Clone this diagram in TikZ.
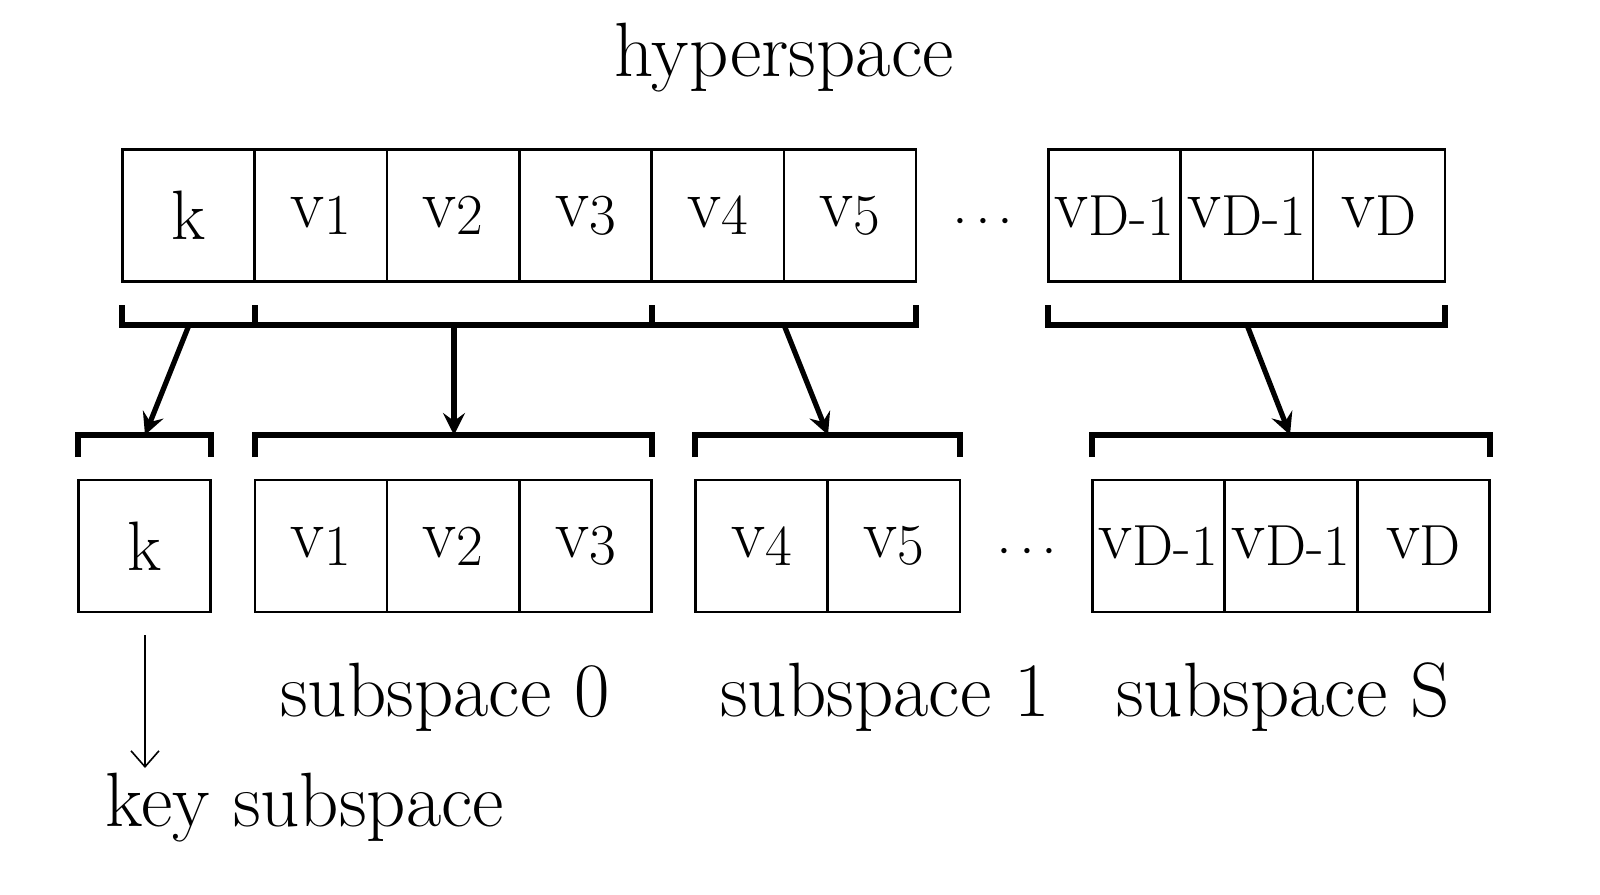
\documentclass[tikz,border=0pt]{standalone}
\usetikzlibrary{arrows.meta}
\begin{document}
\begin{tikzpicture}[x=0.5pt,y=-0.5pt,
  cell/.style={draw,line width=1.3pt,minimum width=66pt,minimum height=66pt,inner sep=0pt,font=\fontsize{35}{40}\selectfont},
  br/.style={line width=2.6pt},
  big/.style={arrows={-Stealth[length=11pt,width=11pt,inset=4pt]},line width=2.6pt},
  lbl/.style={font=\fontsize{38.5}{44}\selectfont,inner sep=0pt}]
\useasboundingbox (0,0) rectangle (1600,894);
\newcommand{\vs}[1]{v\raisebox{-0.25ex}{\fontsize{29}{34}\selectfont #1}}
\node[lbl] (hyp) at (784,58) {hyperspace};
% top row
\foreach \n/\x/\t in {tk/188.5/k,t1/321/\vs{1},t2/453/\vs{2},t3/585.5/\vs{3},t4/718/\vs{4},t5/850/\vs{5},ta/1114.5/\vs{D-1},tb/1247/\vs{D-1},tc/1379/\vs{D}}
  \node[cell] (\n) at (\x,215.5) {\t};
\node[font=\fontsize{35}{40}\selectfont] (tdots) at (983,222) {$\cdots$};
% top brackets
\draw[br] (122,305) -- (122,325) -- (916,325) -- (916,305);
\draw[br] (255,305) -- (255,325);
\draw[br] (652,305) -- (652,325);
\draw[br] (1048,305) -- (1048,325) -- (1445,325) -- (1445,305);
\coordinate (a0) at (189,325); \coordinate (a1) at (454,325);
\coordinate (a2) at (784,325); \coordinate (a3) at (1247,325);
% bottom brackets
\draw[br] (78,457) -- (78,435) -- (211,435) -- (211,457);
\draw[br] (255,457) -- (255,435) -- (652,435) -- (652,457);
\draw[br] (695,457) -- (695,435) -- (960,435) -- (960,457);
\draw[br] (1092,457) -- (1092,435) -- (1490,435) -- (1490,457);
\coordinate (b0) at (145,435); \coordinate (b1) at (454,435);
\coordinate (b2) at (828,435); \coordinate (b3) at (1290,435);
\foreach \i in {0,...,3} \draw[big] (a\i) -- (b\i);
% bottom row
\foreach \n/\x/\t in {bk/144.5/k,b1c/321/\vs{1},b2c/453/\vs{2},b3c/585.5/\vs{3},b4c/761.5/\vs{4},b5c/894/\vs{5},bac/1158.5/\vs{D-1},bbc/1291/\vs{D-1},bcc/1423.5/\vs{D}}
  \node[cell] (\n) at (\x,546) {\t};
\node[font=\fontsize{35}{40}\selectfont] (bdots) at (1027,552) {$\cdots$};
\coordinate (ks) at (145,635);
\node[lbl] (key) at (305,808) {key subspace};
\draw[-{Straight Barb[length=8pt,width=14pt]},line width=0.8pt] (ks) -- (145,768);
\node[lbl] (s0) at (445,697) {subspace 0};
\node[lbl] (s1) at (885,697) {subspace 1};
\node[lbl] (sS) at (1283,697) {subspace S};
\end{tikzpicture}
\end{document}
